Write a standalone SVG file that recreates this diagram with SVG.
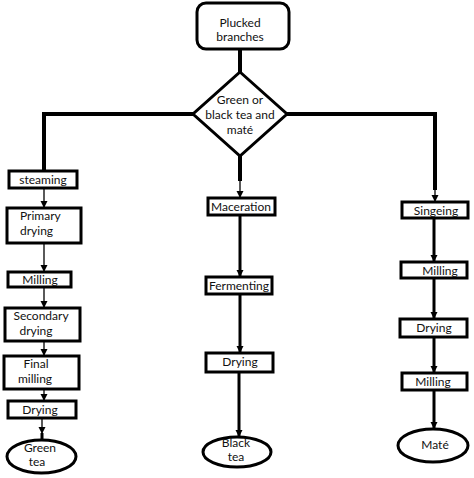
<svg xmlns="http://www.w3.org/2000/svg" width="474" height="478" viewBox="0 0 474 478">
<style>
.box{fill:#fff;stroke:#000;stroke-width:3}
.t{font-family:Lato,"Liberation Sans",sans-serif;font-size:12px;fill:#111;text-anchor:middle}
.thick{fill:none;stroke:#000;stroke-width:4}
.med{fill:none;stroke:#000;stroke-width:3}
.thin{fill:none;stroke:#000;stroke-width:1.3}
</style>
<defs>
<marker id="ah" markerUnits="userSpaceOnUse" markerWidth="8" markerHeight="8" refX="7" refY="3.5" orient="auto">
<path d="M0,0 L7,3.5 L0,7 z" fill="#000"/>
</marker>
</defs>
<rect width="474" height="478" fill="#fff"/>
<g id="connectors">
<line class="thick" x1="240" y1="49" x2="240" y2="72"/>
<path class="thick" d="M44,172 V114 H435 V190"/>
<line class="thin" x1="435" y1="188" x2="435" y2="202" marker-end="url(#ah)"/>
<line class="thick" x1="240" y1="156" x2="240" y2="181"/>
<line class="thin" x1="240" y1="179" x2="240" y2="198" marker-end="url(#ah)"/>
<line class="thin" x1="44" y1="188" x2="44" y2="208" marker-end="url(#ah)"/>
<line class="thin" x1="44" y1="243" x2="44" y2="272" marker-end="url(#ah)"/>
<line class="thin" x1="44" y1="287" x2="44" y2="308" marker-end="url(#ah)"/>
<line class="thin" x1="44" y1="341" x2="44" y2="356" marker-end="url(#ah)"/>
<line class="thin" x1="44" y1="389" x2="44" y2="401" marker-end="url(#ah)"/>
<line class="thin" x1="42" y1="418" x2="42" y2="434" marker-end="url(#ah)"/>
<line class="med" x1="42" y1="433" x2="42" y2="441"/>
<line class="med" x1="240" y1="215" x2="240" y2="277" marker-end="url(#ah)"/>
<line class="med" x1="240" y1="294" x2="240" y2="353" marker-end="url(#ah)"/>
<line class="med" x1="239" y1="372" x2="239" y2="437" marker-end="url(#ah)"/>
<line class="med" x1="434" y1="218" x2="434" y2="262" marker-end="url(#ah)"/>
<line class="med" x1="434" y1="278" x2="434" y2="319" marker-end="url(#ah)"/>
<line class="med" x1="434" y1="337" x2="434" y2="373" marker-end="url(#ah)"/>
<line class="med" x1="434" y1="390" x2="434" y2="429" marker-end="url(#ah)"/>
</g>
<g id="plucked"><rect class="box" x="197" y="3" width="92" height="46" rx="9"/><text class="t" x="240" y="27">Plucked</text><text class="t" x="240" y="41">branches</text></g>
<g id="decision"><polygon class="box" points="240,72 287,114 240,156 193,114"/><text class="t" x="240" y="104">Green or</text><text class="t" x="240" y="119">black tea and</text><text class="t" x="240" y="134">maté</text></g>
<g id="steaming"><rect class="box" x="9" y="171" width="68" height="17"/><text class="t" x="43" y="184">steaming</text></g>
<g id="primary-drying"><rect class="box" x="7" y="208" width="74" height="35"/><text class="t" x="20" y="220" style="text-anchor:start">Primary</text><text class="t" x="20" y="235" style="text-anchor:start">drying</text></g>
<g id="milling-green"><rect class="box" x="8" y="272" width="63" height="15"/><text class="t" x="40" y="284">Milling</text></g>
<g id="secondary-drying"><rect class="box" x="5" y="308" width="75" height="33"/><text class="t" x="41" y="320">Secondary</text><text class="t" x="36" y="335">drying</text></g>
<g id="final-milling"><rect class="box" x="4" y="356" width="75" height="33"/><text class="t" x="36" y="368">Final</text><text class="t" x="35" y="383">milling</text></g>
<g id="drying-green"><rect class="box" x="8" y="401" width="68" height="17"/><text class="t" x="40" y="414">Drying</text></g>
<g id="green-tea"><ellipse class="box" cx="41.5" cy="456.5" rx="34.5" ry="16.5"/><text class="t" x="40" y="452">Green</text><text class="t" x="37" y="466">tea</text></g>
<g id="maceration"><rect class="box" x="208" y="198" width="67" height="17"/><text class="t" x="241" y="211">Maceration</text></g>
<g id="fermenting"><rect class="box" x="206" y="277" width="66" height="17"/><text class="t" x="239" y="290">Fermenting</text></g>
<g id="drying-black"><rect class="box" x="206" y="353" width="67" height="19"/><text class="t" x="240" y="366">Drying</text></g>
<g id="black-tea"><ellipse class="box" cx="237" cy="452" rx="34" ry="15"/><text class="t" x="236" y="447">Black</text><text class="t" x="236" y="461">tea</text></g>
<g id="singeing"><rect class="box" x="402" y="202" width="66" height="16"/><text class="t" x="436" y="215">Singeing</text></g>
<g id="milling-mate-1"><rect class="box" x="401" y="262" width="66" height="16"/><text class="t" x="440" y="275">Milling</text></g>
<g id="drying-mate"><rect class="box" x="400" y="319" width="67" height="18"/><text class="t" x="434" y="332">Drying</text></g>
<g id="milling-mate-2"><rect class="box" x="402" y="373" width="65" height="17"/><text class="t" x="433" y="386">Milling</text></g>
<g id="mate"><ellipse class="box" cx="433" cy="445.5" rx="35" ry="16.5"/><text class="t" x="435" y="449">Maté</text></g>
</svg>
